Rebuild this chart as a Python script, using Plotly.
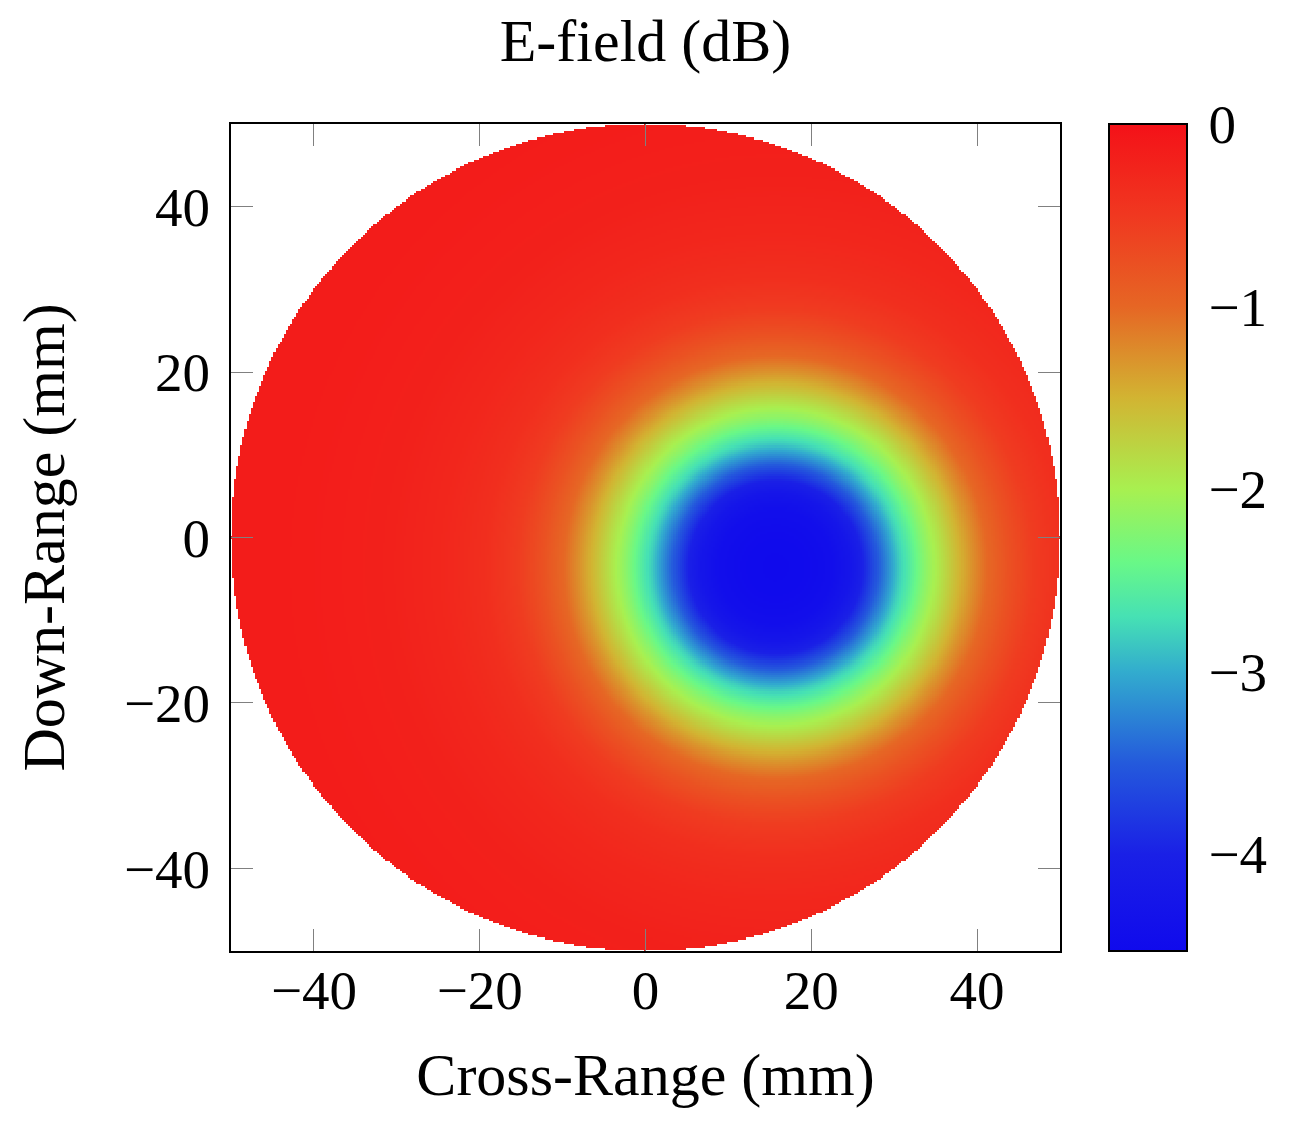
import numpy as np
import plotly.graph_objects as go

# ---- data ----
# radial profile of the E-field (dB) versus distance (mm) from the centre of the dip
radius_mm = [0, 4, 7, 9, 10.5, 12, 13.5, 15, 16.5, 18, 19.5, 21.5, 23.5, 25.5, 28, 31, 35, 40, 47, 57, 75]
field_db = [-4.53, -4.5, -4.42, -4.25, -4.0, -3.6, -3.2, -2.8, -2.5, -2.2, -1.95, -1.62,
            -1.3, -1.02, -0.78, -0.55, -0.38, -0.28, -0.2, -0.15, -0.12]
dip_center_mm = (15.7, -3.6)
aperture_radius_mm = 50.0

x_ticks = [-40, -20, 0, 20, 40]
y_ticks = [-40, -20, 0, 20, 40]
cbar_ticks = [0, -1, -2, -3, -4]
cmin, cmax = -4.53, 0.0

# colour map (value in dB -> colour)
cmap_values = [-4.53, -4.0, -3.5, -3.0, -2.7, -2.4, -2.0, -1.5, -1.0, -0.5, 0.0]
cmap_colors = ["rgb(16,10,236)", "rgb(26,32,230)", "rgb(36,90,220)", "rgb(50,172,206)",
               "rgb(70,225,180)", "rgb(105,248,135)", "rgb(168,240,80)", "rgb(210,180,50)",
               "rgb(230,102,36)", "rgb(240,56,32)", "rgb(244,17,24)"]

# ---- build field on a grid ----
step = 0.25
xs = np.arange(-50, 50 + step / 2, step)
ys = np.arange(-50, 50 + step / 2, step)
X, Y = np.meshgrid(xs, ys)
R = np.hypot(X - dip_center_mm[0], Y - dip_center_mm[1])
Z = np.interp(R, radius_mm, field_db)
Z = np.round(Z, 3)
Z[np.hypot(X, Y) > aperture_radius_mm] = np.nan

colorscale = [[(v - cmin) / (cmax - cmin), c] for v, c in zip(cmap_values, cmap_colors)]

FONT = "Liberation Serif"
TICK_SIZE = 55
LABEL_SIZE = 60
GREY = "rgb(128,128,128)"
PLOT_W = 829  # plot area width in px

fig = go.Figure()
fig.add_trace(go.Heatmap(
    x=xs, y=ys, z=Z, zmin=cmin, zmax=cmax, colorscale=colorscale,
    zsmooth=False, hoverongaps=False,
    colorbar=dict(
        x=(1109 - 231) / PLOT_W, xanchor="left", xref="paper", xpad=0,
        y=0.5, yanchor="middle", len=1, lenmode="fraction", ypad=0,
        thickness=78, outlinewidth=2, outlinecolor="black",
        tickvals=cbar_ticks, ticks="outside", ticklen=10, tickcolor="rgba(0,0,0,0)",
        tickwidth=1, tickfont=dict(family=FONT, size=TICK_SIZE, color="black"),
    ),
))

# inside ticks on both edges of the colour bar
bar_left = (1109 + 1 - 231) / PLOT_W
bar_right = (1109 + 78 - 1 - 231) / PLOT_W
for v in cbar_ticks:
    yp = (v - cmin) / (cmax - cmin)
    fig.add_shape(type="line", xref="paper", yref="paper",
                  x0=bar_left, x1=bar_left + 22 / PLOT_W, y0=yp, y1=yp,
                  line=dict(color=GREY, width=1))
    fig.add_shape(type="line", xref="paper", yref="paper",
                  x0=bar_right - 22 / PLOT_W, x1=bar_right, y0=yp, y1=yp,
                  line=dict(color=GREY, width=1))

axis_common = dict(
    range=[-50, 50], showgrid=False, zeroline=False,
    showline=True, linecolor="black", linewidth=2, mirror="ticks",
    ticks="inside", ticklen=22, tickcolor=GREY, tickwidth=1,
    tickfont=dict(family=FONT, size=TICK_SIZE, color="black"),
)
fig.update_xaxes(**axis_common, tickvals=x_ticks, ticklabelstandoff=-10,
                 title=dict(text="Cross-Range (mm)", font=dict(family=FONT, size=LABEL_SIZE, color="black"),
                            standoff=33))
fig.update_yaxes(**axis_common, tickvals=y_ticks, ticklabelstandoff=8,
                 title=dict(text="Down-Range (mm)", font=dict(family=FONT, size=LABEL_SIZE, color="black"),
                            standoff=40))

fig.update_layout(
    width=1301, height=1132,
    margin=dict(l=231, r=1301 - 1060, t=124, b=1132 - 951),
    paper_bgcolor="white", plot_bgcolor="white",
    title=dict(text="E-field (dB)", x=0.5, xref="paper", xanchor="center",
               y=1 - 40 / 1132, yanchor="middle",
               font=dict(family=FONT, size=LABEL_SIZE, color="black")),
    showlegend=False,
)

fig.write_html("out.html", config={"displayModeBar": False},
               post_script="document.body.style.margin='0';")
